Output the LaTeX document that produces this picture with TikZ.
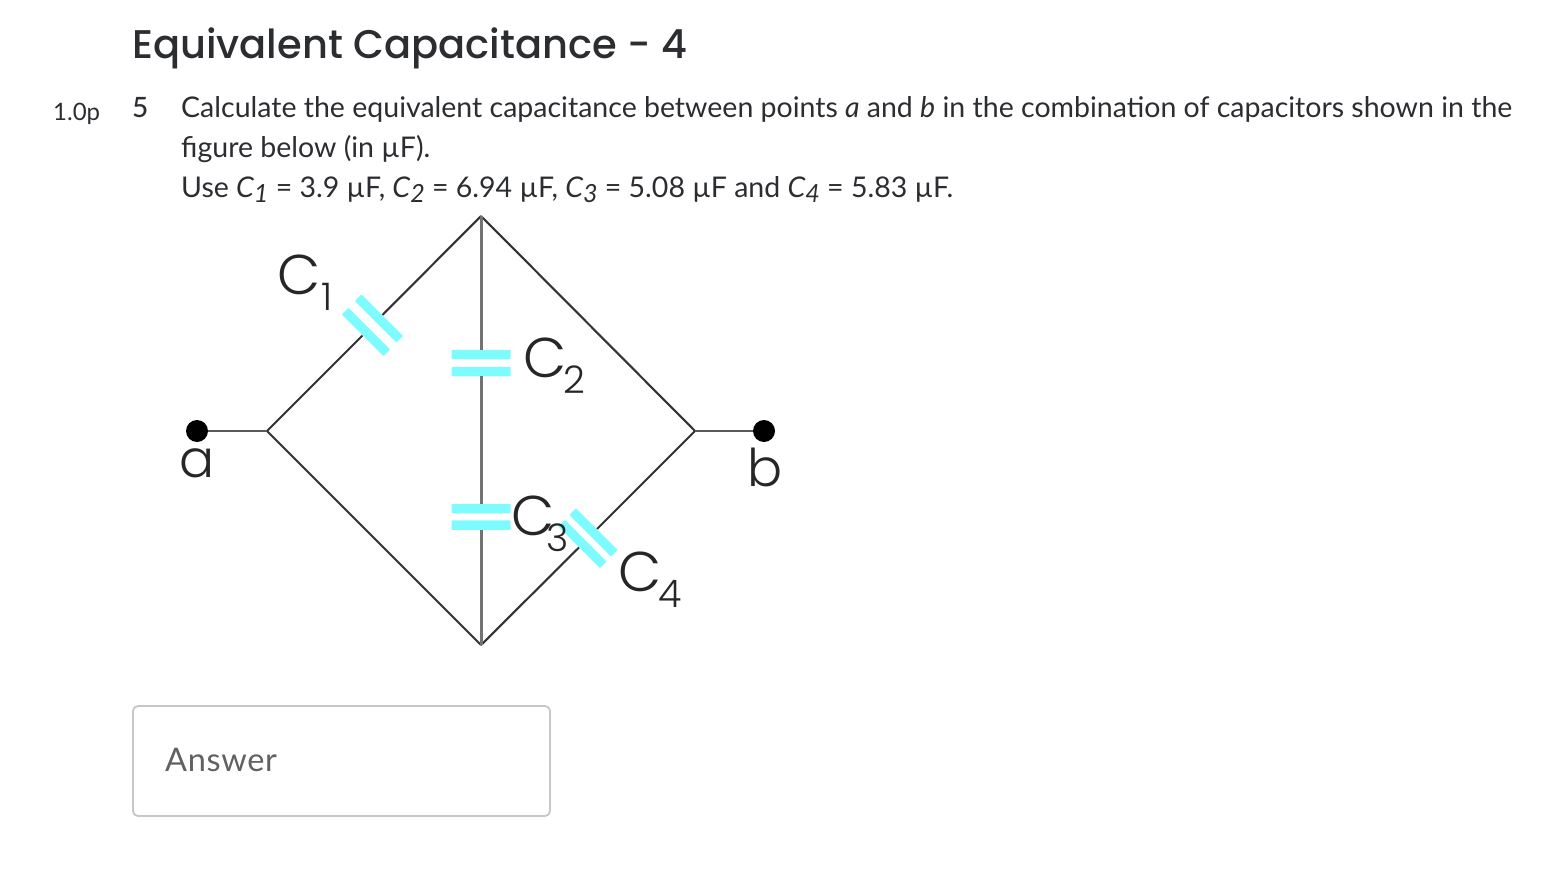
\documentclass[tikz,border=0pt]{standalone}
\usepackage{fontspec}
\setmainfont{Lato}
\newfontfamily\titlefont{Poppins Medium}
\newfontfamily\figfont{Poppins Light}
\newfontfamily\numfont{Lato Medium}
\newcommand{\capvar}[1]{\textit{C\raisebox{-5pt}{\fontsize{25}{25}\selectfont #1}}}
\newcommand{\figcap}[2]{C\hspace{#1pt}\raisebox{-16pt}{\fontsize{38}{38}\selectfont #2}}
\definecolor{plate}{HTML}{7DFBFF}
\definecolor{wire}{HTML}{333333}
\definecolor{body}{HTML}{2B2D31}
\tikzset{
  line/.style={anchor=base west,inner sep=0pt,text=body,font=\fontsize{28.5}{28.5}\selectfont},
  figlabel/.style={inner sep=0pt,text=black!85,font=\figfont\fontsize{56}{56}\selectfont},
  capplate/.style={rectangle,fill=plate,inner sep=0pt,minimum width=59pt,minimum height=9.5pt,rounded corners=1pt},
  terminal/.style={circle,fill=black,inner sep=0pt,minimum size=22pt},
  wireline/.style={draw=wire,line width=2.1pt},
  thinwire/.style={draw=black!65,line width=2pt},
  midwire/.style={draw=black!55,line width=3pt}
}
\begin{document}
\begin{tikzpicture}[x=1pt,y=-1pt]
  \useasboundingbox (0,0) rectangle (1556,878);

  % heading and question
  \node[line,font=\titlefont\fontsize{40}{40}\selectfont] (title) at (132,58) {Equivalent Capacitance - 4};
  \node[line,font=\fontsize{24}{24}\selectfont] (points) at (53,120) {1.0p};
  \node[line,font=\numfont\fontsize{28}{28}\selectfont] (number) at (132,117) {5};
  \node[line] (line1) at (181,117) {Calculate the equivalent capacitance between points \textit{a} and \textit{b} in the combination of capacitors shown in the};
  \node[line] (line2) at (181,157) {figure below (in µF).};
  \node[line] (line3) at (181,197) {Use \capvar{1} = 3.9 µF, \capvar{2} = 6.94 µF, \capvar{3} = 5.08 µF and \capvar{4} = 5.83 µF.};

  % corners of the diamond
  \coordinate (top) at (481,216);
  \coordinate (left) at (267,431);
  \coordinate (right) at (695,431);
  \coordinate (bottom) at (481,645);

  \begin{scope}[every node/.style={capplate}]
    \node[rotate=-45] (c1low) at (366,332) {};
    \node[rotate=-45] (c1up)  at (379,318.5) {};
    \node (c2up)  at (481,354.5) {};
    \node (c2low) at (481,371.5) {};
    \node (c3up)  at (481,508.5) {};
    \node (c3low) at (481,525) {};
    \node[rotate=-45] (c4up)  at (593.5,532.5) {};
    \node[rotate=-45] (c4low) at (582.5,544) {};
  \end{scope}

  \node[terminal] (a) at (197,431) {};
  \node[terminal] (b) at (764,431) {};

  \path[wireline] (left) -- (c1low);
  \path[wireline] (c1up) -- (top);
  \path[wireline] (top) -- (right);
  \path[wireline] (left) -- (bottom);
  \path[wireline] (bottom) -- (c4low);
  \path[wireline] (c4up) -- (right);
  \path[thinwire] (a) -- (left);
  \path[thinwire] (right) -- (b);
  \path[midwire] (top) -- (c2up);
  \path[midwire] (c2low) -- (c3up);
  \path[midwire] (c3low) -- (bottom);

  \node[figlabel,anchor=base,font=\figfont\fontsize{52}{52}\selectfont] (labela) at (197,477) {a};
  \node[figlabel,anchor=base,font=\figfont\fontsize{52}{52}\selectfont] (labelb) at (765,486) {b};
  \node[figlabel,anchor=base west] (labelc1) at (277,294) {\figcap{1}{1}};
  \node[figlabel,anchor=base west] (labelc2) at (523,377) {\figcap{-3}{2}};
  \node[figlabel,anchor=base west] (labelc3) at (511,535) {\figcap{-8}{3}};
  \node[figlabel,anchor=base west] (labelc4) at (618,591) {\figcap{-3}{4}};

  % answer field
  \node[draw=black!22,line width=1.8pt,rounded corners=5pt,minimum width=417pt,minimum height=110pt,inner sep=0pt] (box) at (341.5,761) {};
  \node[line,text=black!62,font=\fontsize{32.5}{32.5}\selectfont\addfontfeature{LetterSpace=2}] (answer) at (165,771) {Answer};
\end{tikzpicture}
\end{document}
